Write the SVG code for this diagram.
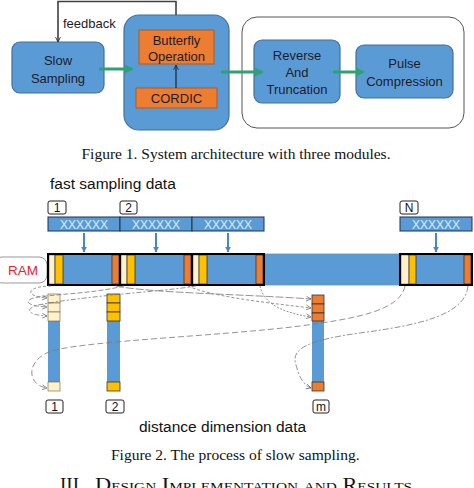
<svg xmlns="http://www.w3.org/2000/svg" width="474" height="488" viewBox="0 0 474 488">
<defs>
<style>
.sans{font-family:"Liberation Sans",Arial,sans-serif;}
.serif{font-family:"Liberation Serif","Times New Roman",serif;}
.bt{font-size:13px;fill:#1c1c2a;text-anchor:middle;}
.blue{fill:#5B9BD5;stroke:#41719C;stroke-width:1.2;}
.orange{fill:#ED7D31;stroke:#AE5A21;stroke-width:1;}
.green{stroke:#2FA272;stroke-width:3;fill:none;}
.lbl{fill:#fff;stroke:#222;stroke-width:1;}
.lt{font-size:12px;fill:#111;text-anchor:middle;}
.xx{font-size:12px;fill:#DDEBF7;text-anchor:middle;}
.seg{fill:none;stroke:#000;stroke-width:2;}
.cream{fill:#FFF2CC;stroke:#6b5a3a;stroke-width:0.6;}
.yel{fill:#FFC000;stroke:#333;stroke-width:0.8;}
.org{fill:#ED7D31;stroke:#333;stroke-width:0.8;}
.cb{fill:#5B9BD5;stroke:none;}
.cur{fill:none;stroke:#777;stroke-width:0.8;}
</style>
<marker id="gh" viewBox="0 0 10 10" refX="8" refY="5" markerWidth="3" markerHeight="3" orient="auto" markerUnits="strokeWidth"><path d="M0,0 L10,5 L0,10 z" fill="#2FA272"/></marker>
<marker id="dh" viewBox="0 0 10 10" refX="9" refY="5" markerWidth="6" markerHeight="6" orient="auto" markerUnits="userSpaceOnUse"><path d="M1,1 L9,5 L1,9" fill="none" stroke="#333" stroke-width="1.6"/></marker>
<marker id="bh" viewBox="0 0 10 10" refX="9" refY="5" markerWidth="3" markerHeight="3" orient="auto" markerUnits="strokeWidth"><path d="M0,0 L10,5 L0,10 z" fill="#4A84C4"/></marker>
<marker id="ch" viewBox="0 0 10 10" refX="9" refY="5" markerWidth="6" markerHeight="6" orient="auto" markerUnits="userSpaceOnUse"><path d="M1,1 L9,5 L1,9" fill="none" stroke="#666" stroke-width="1.2"/></marker>
</defs>
<rect width="474" height="488" fill="#fff"/>

<!-- Figure 1 -->
<g id="slow-sampling">
<rect class="blue" x="12" y="42" width="92" height="51" rx="8"/>
<text class="sans bt" x="58" y="65">Slow</text>
<text class="sans bt" x="58" y="83">Sampling</text>
</g>
<g id="fft-module">
<rect class="blue" x="124" y="15" width="105" height="115" rx="15"/>
</g>
<g id="butterfly">
<rect class="orange" x="139" y="30" width="75" height="34"/>
<text class="sans bt" x="176.5" y="45">Butterfly</text>
<text class="sans bt" x="176.5" y="61">Operation</text>
</g>
<g id="cordic">
<rect class="orange" x="136" y="88" width="81" height="20"/>
<text class="sans bt" x="176.5" y="102.5">CORDIC</text>
</g>
<g id="post-module">
<rect x="242" y="17" width="222" height="111" rx="15" fill="#fff" stroke="#555" stroke-width="1"/>
</g>
<g id="reverse">
<rect class="blue" x="254" y="40" width="86" height="63" rx="8"/>
<text class="sans bt" x="297" y="60">Reverse</text>
<text class="sans bt" x="297" y="77">And</text>
<text class="sans bt" x="297" y="94">Truncation</text>
</g>
<g id="pulse">
<rect class="blue" x="356" y="45" width="97" height="53" rx="8"/>
<text class="sans bt" x="404.5" y="68">Pulse</text>
<text class="sans bt" x="404.5" y="86">Compression</text>
</g>
<g id="fig1-connectors">
<path d="M176 15 V1.5 H58 V42" fill="none" stroke="#404040" stroke-width="1.6" marker-end="url(#dh)"/>
<text class="sans" x="63" y="28" font-size="13" fill="#1c1c2a">feedback</text>
<path d="M176 88 V65" fill="none" stroke="#1f2a44" stroke-width="1.3" marker-end="url(#dh)"/>
<path class="green" d="M99 69 H132" marker-end="url(#gh)"/>
<path class="green" d="M221 72 H262" marker-end="url(#gh)"/>
<path class="green" d="M333 72 H363" marker-end="url(#gh)"/>
</g>
<text class="serif" x="236" y="159" font-size="15.5" fill="#111" text-anchor="middle">Figure 1. System architecture with three modules.</text>

<!-- Figure 2 -->
<text class="sans" x="50" y="189" font-size="15.5" fill="#111">fast sampling data</text>

<g id="fast-data">
<rect class="lbl" x="48" y="201" width="18" height="13" rx="2"/><text class="sans lt" x="57" y="212">1</text>
<rect class="lbl" x="120" y="201" width="17" height="13" rx="2"/><text class="sans lt" x="128.5" y="212">2</text>
<rect class="lbl" x="400" y="201" width="18" height="13" rx="2"/><text class="sans lt" x="409" y="212">N</text>
<rect x="48" y="217" width="72" height="14" fill="#5B9BD5" stroke="#1f3050" stroke-width="1"/>
<rect x="120" y="217" width="72" height="14" fill="#5B9BD5" stroke="#1f3050" stroke-width="1"/>
<rect x="192" y="217" width="72" height="14" fill="#5B9BD5" stroke="#1f3050" stroke-width="1"/>
<rect x="400" y="217" width="72" height="14" fill="#5B9BD5" stroke="#1f3050" stroke-width="1"/>
<text class="sans xx" x="84" y="228.5">XXXXXX</text>
<text class="sans xx" x="156" y="228.5">XXXXXX</text>
<text class="sans xx" x="228" y="228.5">XXXXXX</text>
<text class="sans xx" x="436" y="228.5">XXXXXX</text>
</g>

<g id="ram-label">
<rect x="-6" y="257" width="53" height="26" rx="8" fill="#fff" stroke="#999" stroke-width="1"/>
<text class="sans" x="23" y="275" font-size="13.5" fill="#E0262B" text-anchor="middle">RAM</text>
</g>

<g id="ram">
<rect x="48" y="254" width="424" height="31" fill="#5B9BD5" stroke="#6d8fb5" stroke-width="0.8"/>
<rect class="cream" x="49" y="255" width="6" height="29"/><rect class="yel" x="55" y="255" width="8" height="29"/><rect class="org" x="112" y="255" width="7" height="29"/>
<rect class="cream" x="121" y="255" width="6" height="29"/><rect class="yel" x="127" y="255" width="8" height="29"/><rect class="org" x="184" y="255" width="7" height="29"/>
<rect class="cream" x="193" y="255" width="6" height="29"/><rect class="yel" x="199" y="255" width="8" height="29"/><rect class="org" x="256" y="255" width="7" height="29"/>
<rect class="cream" x="401" y="255" width="8" height="29"/><rect class="yel" x="409" y="255" width="7" height="29"/><rect class="org" x="464" y="255" width="7" height="29"/>
<rect class="seg" x="48" y="254" width="72" height="31"/>
<rect class="seg" x="120" y="254" width="72" height="31"/>
<rect class="seg" x="192" y="254" width="72" height="31"/>
<rect class="seg" x="400" y="254" width="72" height="31"/>
</g>

<g id="fast-arrows">
<path d="M84 233 V252" stroke="#4A84C4" stroke-width="2" marker-end="url(#bh)"/>
<path d="M156 233 V252" stroke="#4A84C4" stroke-width="2" marker-end="url(#bh)"/>
<path d="M228 233 V252" stroke="#4A84C4" stroke-width="2" marker-end="url(#bh)"/>
<path d="M436 233 V252" stroke="#4A84C4" stroke-width="2" marker-end="url(#bh)"/>
</g>

<g id="column-1">
<rect class="cb" x="48" y="321" width="12" height="61"/>
<rect class="cream" x="48" y="294" width="12" height="9"/>
<rect class="cream" x="48" y="303" width="12" height="9"/>
<rect class="cream" x="48" y="312" width="12" height="9"/>
<rect class="cream" x="48" y="382" width="12" height="9"/>
</g>
<g id="column-2">
<rect class="cb" x="107" y="321" width="13" height="61"/>
<rect class="yel" x="107" y="294" width="13" height="9"/>
<rect class="yel" x="107" y="303" width="13" height="9"/>
<rect class="yel" x="107" y="312" width="13" height="9"/>
<rect class="yel" x="107" y="382" width="13" height="9"/>
</g>
<g id="column-m">
<rect class="cb" x="312" y="321" width="12" height="61"/>
<rect class="org" x="312" y="295" width="12" height="9"/>
<rect class="org" x="312" y="304" width="12" height="9"/>
<rect class="org" x="312" y="313" width="12" height="8"/>
<rect class="org" x="312" y="382" width="12" height="9"/>
</g>

<g id="mapping-connectors">
<path class="cur" d="M51 286 C 28 286, 22 296, 47 298" stroke-dasharray="3 2" marker-end="url(#ch)"/>
<path class="cur" d="M124 286 C 95 293, 60 294, 38 297 C 22 300, 26 306, 47 307" stroke-dasharray="5 2" marker-end="url(#ch)"/>
<path class="cur" d="M196 286 C 160 292, 90 295, 38 305 C 24 309, 28 315, 47 316" stroke-dasharray="5 2 2 2" marker-end="url(#ch)"/>
<path class="cur" d="M405 286 C 400 310, 360 318, 300 326 C 220 336, 100 340, 55 350 C 25 358, 26 385, 47 388" stroke-dasharray="6 3" marker-end="url(#ch)"/>
<path class="cur" d="M116 286 C 150 293, 240 294, 311 299" stroke="#555" stroke-dasharray="8 2" marker-end="url(#ch)"/>
<path class="cur" d="M188 286 C 210 296, 260 302, 311 308" stroke="#555" stroke-dasharray="3 2" marker-end="url(#ch)"/>
<path class="cur" d="M260 286 C 264 305, 285 313, 311 317" stroke="#555" stroke-dasharray="2 1.5" marker-end="url(#ch)"/>
<path class="cur" d="M468 286 C 465 315, 420 325, 360 333 C 310 340, 290 348, 296 365 C 300 380, 305 386, 311 388" stroke="#444" stroke-dasharray="6 2 2 2" marker-end="url(#ch)"/>
</g>

<g id="distance-labels">
<rect class="lbl" x="46" y="400" width="17" height="13" rx="2"/><text class="sans lt" x="54.5" y="411">1</text>
<rect class="lbl" x="106" y="400" width="18" height="13" rx="2"/><text class="sans lt" x="115" y="411">2</text>
<rect class="lbl" x="313" y="400" width="16" height="13" rx="2"/><text class="sans lt" x="321" y="411">m</text>
</g>
<text class="sans" x="139" y="432" font-size="15.5" fill="#111">distance dimension data</text>
<text class="serif" x="111" y="460" font-size="15.5" fill="#111">Figure 2. The process of slow sampling.</text>
<text class="serif" x="60" y="491" font-size="19" fill="#111">III.</text>
<text class="serif" x="95" y="491" font-size="19" fill="#111" font-variant="small-caps" textLength="317" lengthAdjust="spacingAndGlyphs">Design Implementation and Results</text>
</svg>
